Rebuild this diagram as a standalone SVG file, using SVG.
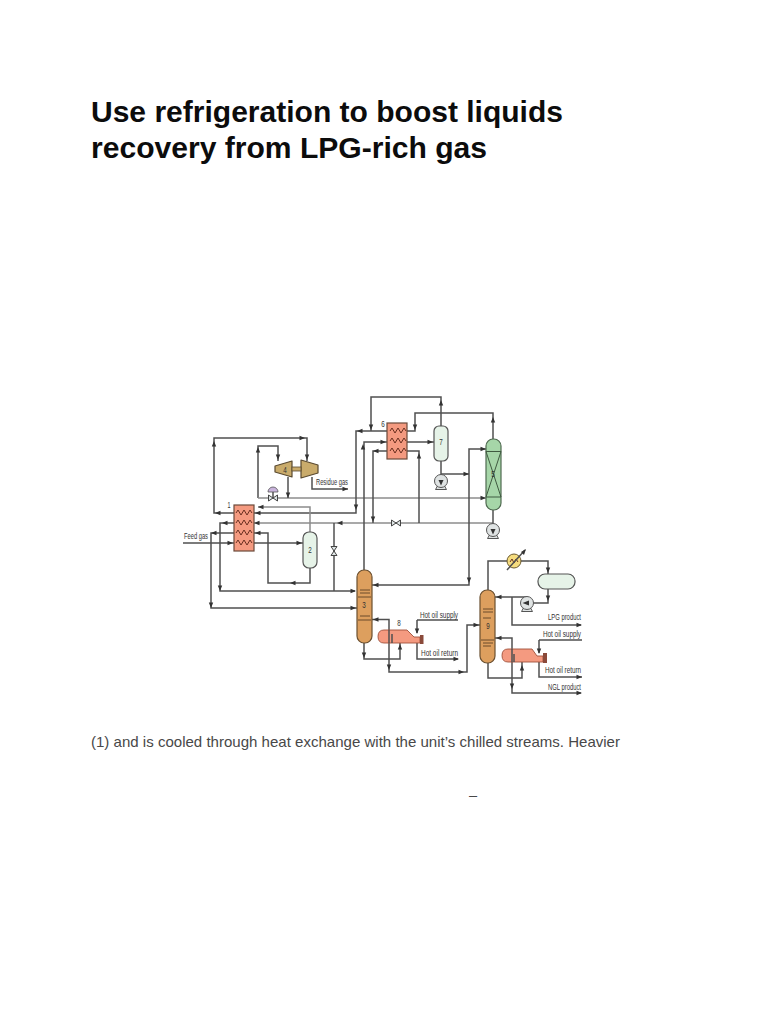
<svg xmlns="http://www.w3.org/2000/svg" width="768" height="1024" viewBox="0 0 768 1024">
<style>
.t{font-family:"Liberation Sans",Arial,sans-serif}
.title{font-size:29px;font-weight:700;fill:#0c0c0c}
.body{font-size:14.6px;fill:#484848}
.l{font-family:"Liberation Sans",sans-serif;font-size:9px;fill:#333}
.n{font-family:"Liberation Sans",sans-serif;font-size:9px;fill:#333;text-anchor:middle}
.c{fill:none;stroke:#505050;stroke-width:1.5}
.g{fill:none;stroke:#8c8c8c;stroke-width:1.5}
.in{fill:none;stroke:#6b4a2a;stroke-width:1}
.z{fill:none;stroke:#6b3020;stroke-width:1}
.a{fill:#333}
</style>
<defs>
<path id="R" class="a" d="M3 0L-2.500-2.200V2.200Z"/>
<path id="L" class="a" d="M-3 0L2.500-2.200V2.200Z"/>
<path id="U" class="a" d="M0-3L-2.200 2.500H2.200Z"/>
<path id="D" class="a" d="M0 3L-2.200-2.500H2.200Z"/>
<path id="V" d="M-4.500-3L4.500 3V-3L-4.500 3Z" fill="#dfe6e6" stroke="#444" stroke-width="1"/>
<g id="P"><path d="M-5.500 8.500L-3 4H3L5.500 8.500Z" fill="#dfe3e3" stroke="#555" stroke-width="1"/><circle r="6.500" fill="#dfe3e3" stroke="#555" stroke-width="1"/><path d="M0 4.500L-2.500-1H2.500Z" fill="#333"/></g>
</defs>
<rect width="768" height="1024" fill="#fff"/>
<text class="t title" x="91" y="122" textLength="472" lengthAdjust="spacingAndGlyphs">Use refrigeration to boost liquids</text>
<text class="t title" x="91" y="158" textLength="396" lengthAdjust="spacingAndGlyphs">recovery from LPG-rich gas</text>
<text class="t body" x="91" y="747" textLength="529" lengthAdjust="spacingAndGlyphs">(1) and is cooled through heat exchange with the unit’s chilled streams. Heavier</text>
<text class="t body" x="469" y="800">–</text>

<g id="connectors">
<path class="c" d="M234 513H214V438H307V461"/>
<path class="c" d="M278 461V446H258V498"/>
<path class="g" d="M258 498H486"/>
<path class="c" d="M288 477V498"/>
<path class="c" d="M312 477V489H348"/>
<path class="c" d="M254 513H356V431H387"/>
<path class="g" d="M310 532V507H258"/>
<path class="g" d="M254 523H493"/>
<path class="c" d="M234 523H220V591H355"/>
<path class="c" d="M254 533H268V583H310V568"/>
<path class="c" d="M234 533H211V608H357"/>
<path class="c" d="M183 543H234M254 543H303"/>
<path class="c" d="M334 523V591"/>
<path class="c" d="M364 570V442H387"/>
<path class="c" d="M407 442H434"/>
<path class="c" d="M387 451H373V523"/>
<path class="c" d="M407 451H419V523"/>
<path class="c" d="M407 431H415V413H493V439"/>
<path class="c" d="M371 431V397H441V426"/>
<path class="c" d="M441 461V476"/>
<path class="c" d="M441 474H469"/>
<path class="c" d="M486 449H469V585H372"/>
<path class="c" d="M493 510V525"/>
<path class="c" d="M372 619.500H389V672H467V625H480"/>
<path class="c" d="M364 643V659H400V643"/>
<path class="c" d="M417 620H458M417 620V633M417 643V659H458"/>
<path class="c" d="M488 590V561H548V574"/>
<path class="c" d="M548 589V603H527"/>
<path class="c" d="M527 597H495M512 597V625H581"/>
<path class="c" d="M495 638H512V693H581"/>
<path class="c" d="M488 663V678H522V662"/>
<path class="c" d="M539 640H582M539 640V653M539 662V677H582"/>
<use href="#U" x="214" y="444"/><use href="#R" x="302" y="438"/><use href="#D" x="307" y="457"/>
<use href="#L" x="218" y="513"/><use href="#U" x="258" y="450"/><use href="#D" x="278" y="457"/>
<use href="#D" x="288" y="495"/><use href="#R" x="345" y="489"/><use href="#L" x="258" y="513"/>
<use href="#L" x="261" y="507"/><use href="#L" x="257" y="523"/><use href="#L" x="340" y="523"/>
<use href="#L" x="225" y="523"/><use href="#L" x="258" y="533"/><use href="#L" x="214" y="533"/>
<use href="#R" x="230" y="543"/><use href="#R" x="299" y="543"/><use href="#L" x="293" y="583"/>
<use href="#D" x="220" y="588"/><use href="#D" x="211" y="605"/><use href="#R" x="353" y="591"/><use href="#R" x="353" y="608"/>
<use href="#D" x="356" y="507"/><use href="#L" x="360" y="431"/><use href="#R" x="383" y="442"/><use href="#U" x="363" y="447"/>
<use href="#R" x="430" y="442"/><use href="#L" x="376" y="451"/><use href="#D" x="373" y="519"/><use href="#U" x="419" y="456"/>
<use href="#U" x="493" y="420"/><use href="#D" x="415" y="427"/><use href="#U" x="441" y="403"/><use href="#D" x="371" y="427"/>
<use href="#R" x="466" y="474"/><use href="#R" x="483" y="449"/><use href="#R" x="483" y="498"/><use href="#D" x="469" y="580"/><use href="#L" x="376" y="585"/>
<use href="#L" x="376" y="619.500"/><use href="#D" x="389" y="667"/><use href="#R" x="461" y="672"/><use href="#R" x="476" y="625"/>
<use href="#D" x="364" y="655"/><use href="#U" x="400" y="647"/><use href="#D" x="417" y="631"/><use href="#R" x="456" y="659"/>
<use href="#D" x="548" y="570"/><use href="#D" x="548" y="598"/><use href="#L" x="499" y="597"/><use href="#R" x="579" y="625"/>
<use href="#L" x="499" y="638"/><use href="#D" x="512" y="686"/><use href="#R" x="579" y="693"/><use href="#U" x="522" y="668"/>
<use href="#D" x="539" y="651"/><use href="#R" x="579" y="677"/>
</g>

<g id="node-1">
<rect x="234" y="505" width="20" height="46" fill="#f49a80" stroke="#6b4a3a" stroke-width="1.200"/>
<path class="z" d="M236 513l2-3 3 5 3-5 3 5 3-5 2 3M236 523l2-3 3 5 3-5 3 5 3-5 2 3M236 533l2-3 3 5 3-5 3 5 3-5 2 3M236 543l2-3 3 5 3-5 3 5 3-5 2 3"/>
<text class="n" x="229" y="508" textLength="3" lengthAdjust="spacingAndGlyphs">1</text>
</g>
<g id="node-2">
<rect x="303" y="532" width="14" height="36" rx="6" fill="#e6f3e8" stroke="#555" stroke-width="1.200"/>
<text class="n" x="310" y="553" textLength="3.500" lengthAdjust="spacingAndGlyphs">2</text>
</g>
<g id="node-3">
<rect x="357" y="570" width="15" height="73" rx="7" fill="#dd9f5e" stroke="#6b5030" stroke-width="1.200"/>
<path class="in" d="M360 590H370M360 593H370M358 597H371M360 616H370M358 620H371"/>
<text class="n" x="364" y="608" textLength="3.500" lengthAdjust="spacingAndGlyphs">3</text>
</g>
<g id="node-4">
<path d="M275 466L292 461V477L275 472Z" fill="#c9ab6b" stroke="#5a4a30" stroke-width="1.200" stroke-linejoin="round"/>
<path d="M301 460L318 465V473L301 478Z" fill="#c9ab6b" stroke="#5a4a30" stroke-width="1.200" stroke-linejoin="round"/>
<rect x="292" y="467" width="9" height="4" fill="#c9ab6b" stroke="#5a4a30" stroke-width=".8"/>
<text class="n" x="285" y="473" textLength="3.500" lengthAdjust="spacingAndGlyphs">4</text>
</g>
<g id="node-5">
<rect x="486" y="439" width="15" height="71" rx="7" fill="#a6d6a8" stroke="#4f6a50" stroke-width="1.200"/>
<path class="in" d="M486 451.500H501M486 497H501M486 451.500L501 497M501 451.500L486 497" style="stroke:#3f5a40"/>
<text class="n" x="493" y="477" textLength="3.500" lengthAdjust="spacingAndGlyphs">5</text>
</g>
<g id="node-6">
<rect x="387" y="423" width="20" height="36" fill="#f49a80" stroke="#6b4a3a" stroke-width="1.200"/>
<path class="z" d="M390 431l2-3 3 5 3-5 3 5 3-5 2 3M390 441l2-3 3 5 3-5 3 5 3-5 2 3M390 451l2-3 3 5 3-5 3 5 3-5 2 3"/>
<text class="n" x="383" y="427" textLength="3.500" lengthAdjust="spacingAndGlyphs">6</text>
</g>
<g id="node-7">
<rect x="434" y="426" width="14" height="35" rx="5" fill="#e6f3e8" stroke="#555" stroke-width="1.200"/>
<text class="n" x="441" y="445" textLength="3.500" lengthAdjust="spacingAndGlyphs">7</text>
</g>
<g id="node-8">
<path d="M384 630H407L414 637H420V643H384Q378 643 378 636.500Q378 630 384 630Z" fill="#f49a80" stroke="#a0503a" stroke-width=".9"/>
<rect x="420" y="635" width="3.500" height="9" fill="#8a4a3a"/>
<path d="M392 634V643M389 630V643" class="c"/>
<text class="n" x="399" y="626" textLength="3.500" lengthAdjust="spacingAndGlyphs">8</text>
</g>
<g id="node-9">
<rect x="480" y="590" width="15" height="73" rx="7" fill="#dd9f5e" stroke="#6b5030" stroke-width="1.200"/>
<path class="in" d="M483 609H493M483 612H493M483 618H491M481 640H494M483 643H493M483 646H491"/>
<text class="n" x="488" y="629" textLength="3.500" lengthAdjust="spacingAndGlyphs">9</text>
</g>
<g id="node-10">
<path d="M508 649H532L537 656H543V662H508Q502 662 502 655.500Q502 649 508 649Z" fill="#f49a80" stroke="#a0503a" stroke-width=".9"/>
<rect x="543" y="653" width="4" height="10" fill="#8a4a3a"/>
<path class="c" d="M514 654V662M512 649V662"/>
</g>
<g id="cooler">
<circle cx="514" cy="561" r="7" fill="#f5dc7e" stroke="#6b5a30" stroke-width="1"/>
<path class="z" d="M510 562l2-3 2 4 2-4 2 3"/>
<path class="c" d="M507 570L525 550"/>
<path class="a" d="M526 549L521 552L524 555Z"/>
</g>
<g id="vessel-lpg">
<rect x="538" y="574" width="37" height="15" rx="7" fill="#e6f3e8" stroke="#555" stroke-width="1.200"/>
</g>
<g id="pump-7"><use href="#P" x="441" y="481"/></g>
<g id="pump-5"><use href="#P" x="493" y="530"/></g>
<g id="pump-9"><g transform="translate(527 603)"><path d="M-5.500 8.500L-3 4H3L5.500 8.500Z" fill="#dfe3e3" stroke="#555" stroke-width="1"/><circle r="6.500" fill="#dfe3e3" stroke="#555" stroke-width="1"/><path d="M-4.500 0L2-2.500V2.500Z" fill="#333"/></g></g>
<g id="valve-a">
<path d="M268 492a5 5 0 0 1 10 0Z" fill="#c9b3dc" stroke="#555" stroke-width=".8"/>
<path d="M273 492V498" class="c"/>
<use href="#V" x="273" y="498"/>
</g>
<g id="valve-b"><use href="#V" transform="translate(334 551) rotate(90)"/></g>
<g id="valve-c"><use href="#V" x="396" y="523"/></g>
<g id="labels">
<text class="l" x="184" y="539" textLength="24" lengthAdjust="spacingAndGlyphs">Feed gas</text>
<text class="l" x="316" y="485" textLength="32" lengthAdjust="spacingAndGlyphs">Residue gas</text>
<text class="l" x="420" y="617.500" textLength="38" lengthAdjust="spacingAndGlyphs">Hot oil supply</text>
<text class="l" x="421" y="655.500" textLength="37" lengthAdjust="spacingAndGlyphs">Hot oil return</text>
<text class="l" x="548" y="620" textLength="33" lengthAdjust="spacingAndGlyphs">LPG product</text>
<text class="l" x="543" y="637" textLength="38" lengthAdjust="spacingAndGlyphs">Hot oil supply</text>
<text class="l" x="545" y="673" textLength="36" lengthAdjust="spacingAndGlyphs">Hot oil return</text>
<text class="l" x="548" y="690" textLength="33" lengthAdjust="spacingAndGlyphs">NGL product</text>
</g>
</svg>
